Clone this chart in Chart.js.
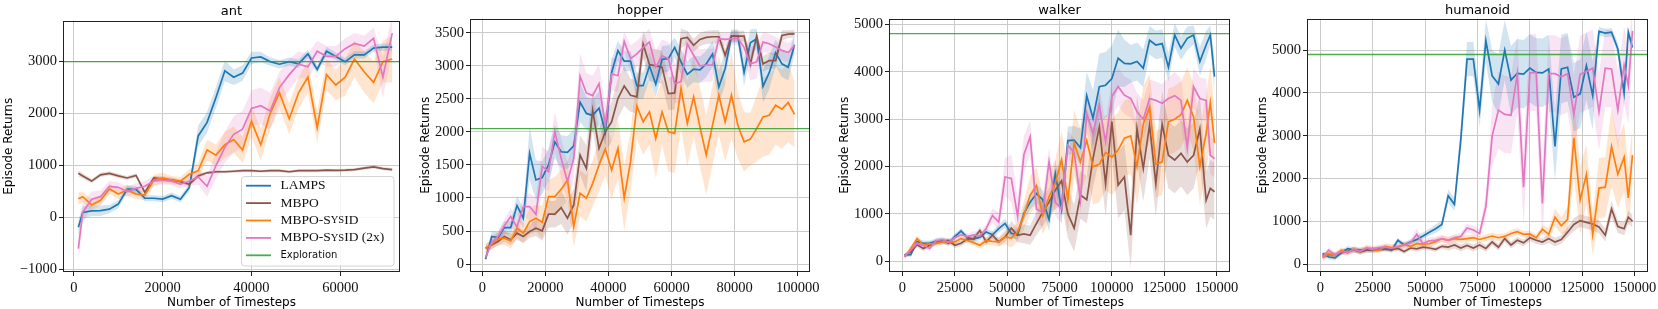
<!DOCTYPE html>
<html>
<head>
<meta charset="utf-8">
<script src="https://cdn.jsdelivr.net/npm/chart.js@4/dist/chart.umd.min.js"></script>
<style>
  html, body { margin: 0; padding: 0; background: #fff; }
  #fig { position: relative; width: 1658px; height: 309px; overflow: hidden; }
  #fig canvas { position: absolute; top: 0; }
</style>
</head>
<body>
<div id="fig">
  <canvas id="chart-ant"></canvas>
  <canvas id="chart-hopper"></canvas>
  <canvas id="chart-walker"></canvas>
  <canvas id="chart-humanoid"></canvas>
</div>
<script>
/*
  ==================================================
  ====================== DATA ======================
  ==================================================
*/

let seriesNames = ['LAMPS', 'MBPO', 'MBPO-SysID', 'MBPO-SysID (2x)'];

// ---- ant ----
let antSteps = [1000, 2000, 4000, 6000, 8000, 10000, 12000, 14000, 16000, 18000, 20000, 22000, 24000, 26000, 28000, 30000, 32000, 34000, 36000, 38000, 40000, 42100, 44200, 46300, 48500, 50600, 52700, 54800, 56900, 59000, 61100, 63200, 65400, 67500, 69600, 71700];
let antLamps = [-190, 96, 128, 130, 160, 257, 546, 540, 370, 370, 355, 420, 350, 578, 1570, 1830, 2311, 2824, 2700, 2780, 3070, 3090, 3000, 2950, 3000, 2960, 3150, 2850, 3200, 3100, 3000, 3130, 3130, 3260, 3280, 3280];
let antMbpo = [850, 800, 700, 820, 850, 800, 760, 810, 480, 760, 740, 720, 690, 640, 800, 860, 880, 880, 890, 900, 900, 890, 900, 900, 880, 900, 900, 900, 910, 905, 910, 920, 950, 975, 940, 920];
let antSysid = [360, 400, 240, 330, 550, 450, 530, 450, 430, 720, 760, 720, 700, 830, 900, 1300, 1200, 1400, 1500, 1300, 1850, 1400, 2000, 2400, 1900, 2400, 2700, 1730, 2750, 2550, 2700, 3050, 2800, 2600, 3000, 3050];
let antSysid2x = [-600, 100, 350, 400, 600, 580, 500, 560, 600, 700, 720, 700, 640, 700, 780, 600, 1000, 1350, 1600, 1700, 2100, 2150, 2050, 2500, 2750, 2950, 2900, 3200, 3100, 3100, 3250, 3350, 3300, 3450, 2700, 3550];
let antLampsSd = [150, 120, 100, 100, 80, 80, 70, 60, 60, 60, 60, 60, 60, 80, 200, 200, 200, 200, 150, 150, 120, 100, 80, 80, 80, 80, 80, 80, 80, 70, 70, 70, 70, 70, 70, 70];
let antMbpoSd = [60, 50, 40, 40, 40, 40, 40, 40, 40, 40, 40, 40, 40, 40, 40, 30, 30, 30, 30, 30, 30, 30, 30, 30, 30, 30, 30, 30, 30, 30, 30, 30, 30, 30, 30, 30];
let antSysidSd = [120, 100, 100, 100, 100, 100, 100, 100, 100, 100, 100, 80, 80, 100, 150, 200, 200, 250, 250, 250, 300, 300, 300, 300, 300, 300, 300, 300, 300, 300, 350, 350, 400, 400, 400, 450];
let antSysid2xSd = [250, 200, 150, 120, 100, 100, 100, 100, 100, 100, 80, 80, 80, 100, 150, 200, 250, 300, 350, 350, 350, 350, 350, 300, 300, 250, 250, 200, 200, 200, 200, 200, 200, 200, 400, 350];
let antExploration = 3000;
let antXTicks = [0, 20000, 40000, 60000];
let antYTicks = [-1000, 0, 1000, 2000, 3000];

// ---- hopper ----
let hopperSteps = [1000, 3000, 5000, 7000, 9000, 11000, 13000, 15000, 17000, 19000, 21000, 23000, 25000, 27000, 29000, 31000, 33000, 35000, 37000, 39000, 41000, 43000, 45000, 47000, 49000, 51000, 53000, 55000, 57000, 59000, 61000, 63000, 65000, 67000, 69000, 71000, 73000, 75000, 77000, 79000, 81000, 83000, 85000, 87000, 89000, 91000, 93000, 95000, 97000, 99000];
let hopperLamps = [75, 417, 402, 553, 553, 885, 694, 1675, 1273, 1308, 1500, 1850, 1700, 1690, 1790, 2450, 2280, 2250, 2360, 2000, 2900, 3230, 3070, 3070, 2700, 2700, 3000, 2720, 3100, 3110, 3280, 3060, 2870, 2950, 2940, 3030, 3180, 2680, 2960, 3450, 3450, 2900, 3350, 3410, 2690, 2900, 3200, 3030, 2980, 3320];
let hopperMbpo = [241, 292, 342, 417, 367, 468, 417, 493, 543, 503, 755, 755, 855, 694, 895, 1650, 1449, 2329, 1750, 2002, 2153, 2505, 2696, 2555, 2530, 3330, 3020, 3000, 2980, 2580, 2590, 3410, 3430, 3310, 3400, 3430, 3440, 3440, 3160, 3450, 3450, 3450, 3030, 3450, 3030, 3080, 3080, 3460, 3480, 3485];
let hopperSysid = [241, 302, 382, 392, 352, 543, 468, 644, 694, 634, 1021, 1021, 1130, 1270, 568, 1071, 996, 1222, 1499, 1740, 1423, 1750, 1000, 1549, 2394, 2153, 2304, 1901, 2304, 2002, 1977, 2656, 2128, 2530, 2078, 1650, 2103, 2555, 2153, 2555, 2103, 1851, 1891, 2052, 2228, 2253, 2404, 2344, 2445, 2264];
let hopperSysid2x = [100, 330, 420, 580, 720, 560, 870, 870, 750, 1480, 1400, 2000, 1600, 1250, 1600, 2840, 2590, 2550, 2730, 2100, 2880, 2850, 3370, 3110, 3180, 3280, 3360, 2980, 3150, 3110, 2730, 2760, 3330, 3160, 3000, 3010, 3010, 3410, 3400, 3410, 3420, 3280, 3030, 3060, 3360, 3335, 3285, 3234, 3200, 3310];
let hopperLampsSd = [50, 80, 80, 100, 100, 150, 150, 400, 300, 250, 250, 250, 250, 250, 250, 300, 250, 250, 250, 200, 200, 150, 150, 150, 200, 200, 200, 200, 200, 200, 150, 200, 200, 200, 200, 200, 200, 250, 250, 100, 100, 200, 200, 150, 250, 250, 200, 200, 200, 150];
let hopperMbpoSd = [60, 60, 60, 80, 80, 100, 100, 100, 120, 150, 200, 200, 250, 250, 250, 300, 350, 300, 300, 300, 300, 300, 300, 250, 250, 200, 250, 250, 250, 250, 250, 150, 100, 100, 100, 100, 100, 100, 100, 80, 80, 80, 120, 80, 120, 120, 120, 80, 60, 60];
let hopperSysidSd = [60, 80, 100, 100, 120, 150, 150, 200, 200, 250, 250, 300, 300, 300, 300, 350, 350, 350, 400, 400, 450, 450, 500, 450, 500, 500, 500, 600, 500, 600, 600, 600, 650, 600, 600, 600, 600, 600, 600, 650, 500, 450, 400, 500, 600, 600, 600, 600, 600, 500];
let hopperSysid2xSd = [60, 80, 80, 100, 120, 150, 150, 200, 250, 300, 300, 300, 300, 300, 300, 350, 300, 300, 300, 300, 250, 250, 150, 200, 200, 200, 200, 250, 250, 250, 300, 300, 200, 200, 250, 250, 250, 100, 100, 100, 100, 150, 250, 250, 150, 150, 150, 150, 150, 120];
let hopperExploration = 2050;
let hopperXTicks = [0, 20000, 40000, 60000, 80000, 100000];
let hopperYTicks = [0, 500, 1000, 1500, 2000, 2500, 3000, 3500];

// ---- walker ----
let walkerSteps = [1000, 4000, 7000, 10000, 13000, 16000, 19000, 22000, 25000, 28000, 31000, 34000, 37000, 40000, 43000, 46000, 49000, 52000, 55000, 58000, 61000, 64000, 67000, 70000, 73000, 76000, 79000, 82000, 85000, 88000, 91000, 94000, 97000, 100000, 103000, 106000, 109000, 112000, 115000, 118000, 121000, 124000, 127000, 130000, 133000, 136000, 139000, 142000, 145000, 147000, 149000];
let walkerLamps = [130, 140, 420, 380, 380, 420, 440, 380, 520, 640, 500, 470, 510, 620, 560, 690, 800, 590, 560, 1010, 1250, 1430, 1300, 880, 1850, 1100, 2550, 2560, 2400, 3500, 3020, 3690, 3720, 3860, 4290, 4180, 4170, 4220, 4080, 4670, 4570, 4600, 4100, 4780, 4500, 4710, 4780, 4220, 4570, 4780, 3900];
let walkerMbpo = [127, 200, 350, 270, 340, 400, 420, 440, 340, 380, 470, 480, 650, 410, 550, 410, 515, 700, 550, 580, 550, 800, 1040, 1250, 1500, 1700, 1000, 700, 1400, 1300, 2170, 2840, 1640, 2950, 1610, 1780, 550, 2800, 1960, 2880, 1640, 2900, 2240, 2140, 2280, 2100, 2240, 2800, 1290, 1540, 1470];
let walkerSysid = [90, 270, 480, 350, 370, 380, 410, 410, 410, 480, 440, 395, 340, 440, 420, 410, 515, 490, 620, 970, 1400, 1600, 970, 1360, 1650, 2150, 1300, 2500, 2100, 2550, 2000, 2050, 2300, 2200, 2350, 2600, 2650, 2000, 2900, 3250, 2050, 2100, 2950, 3000, 3100, 3400, 3050, 2000, 2700, 3350, 2500];
let walkerSysid2x = [90, 240, 380, 340, 270, 430, 460, 400, 500, 560, 520, 560, 540, 690, 970, 830, 1780, 1750, 950, 2250, 2630, 1100, 1040, 2100, 1250, 1100, 2450, 2300, 1300, 3120, 2700, 3300, 2520, 3480, 3690, 3510, 3440, 3160, 3000, 3440, 3400, 3340, 3440, 3500, 3400, 2400, 3690, 3440, 3400, 2240, 2170];
let walkerLampsSd = [40, 50, 60, 60, 60, 60, 60, 60, 60, 60, 60, 60, 60, 60, 80, 80, 100, 100, 100, 150, 150, 200, 200, 250, 300, 300, 300, 300, 400, 500, 600, 700, 700, 700, 600, 500, 400, 400, 400, 300, 300, 300, 300, 250, 250, 250, 200, 300, 300, 200, 400];
let walkerMbpoSd = [40, 50, 60, 60, 60, 60, 60, 60, 60, 60, 60, 60, 80, 80, 80, 80, 100, 150, 150, 200, 200, 250, 300, 300, 400, 500, 500, 500, 500, 500, 600, 700, 700, 700, 700, 700, 700, 700, 700, 700, 700, 700, 700, 700, 700, 700, 700, 700, 600, 600, 600];
let walkerSysidSd = [50, 60, 60, 60, 60, 60, 60, 60, 60, 60, 60, 60, 80, 80, 80, 100, 150, 200, 200, 300, 400, 400, 400, 500, 500, 600, 700, 700, 700, 700, 800, 800, 800, 800, 800, 800, 800, 800, 800, 700, 700, 700, 700, 700, 700, 700, 700, 800, 800, 800, 700];
let walkerSysid2xSd = [40, 50, 60, 60, 60, 60, 60, 60, 60, 60, 60, 80, 80, 100, 150, 200, 400, 500, 400, 400, 350, 300, 300, 300, 300, 300, 300, 300, 300, 400, 400, 400, 400, 400, 400, 400, 400, 400, 400, 400, 400, 400, 450, 500, 450, 450, 400, 450, 450, 400, 400];
let walkerExploration = 4810;
let walkerXTicks = [0, 25000, 50000, 75000, 100000, 125000, 150000];
let walkerYTicks = [0, 1000, 2000, 3000, 4000, 5000];

// ---- humanoid ----
let humanoidSteps = walkerSteps;
let humanoidLamps = [250, 170, 150, 270, 365, 330, 330, 330, 330, 360, 380, 330, 560, 450, 520, 580, 660, 750, 830, 930, 1600, 1400, 2900, 4790, 4790, 3600, 5220, 4400, 4210, 5000, 4300, 4460, 4440, 4580, 4480, 4470, 4560, 2750, 4560, 4600, 3900, 3980, 4640, 3940, 5440, 5400, 5420, 5030, 4000, 5420, 5060];
let humanoidMbpo = [200, 230, 220, 280, 300, 340, 290, 330, 340, 350, 350, 340, 370, 300, 380, 360, 400, 380, 350, 420, 400, 450, 380, 440, 380, 450, 370, 520, 400, 600, 450, 560, 500, 620, 560, 520, 600, 520, 580, 750, 930, 1020, 980, 940, 870, 680, 1290, 880, 830, 1100, 1010];
let humanoidSysid = [150, 250, 200, 330, 270, 350, 300, 380, 340, 330, 420, 390, 400, 460, 420, 480, 470, 480, 530, 600, 560, 600, 580, 600, 620, 580, 620, 660, 620, 650, 720, 760, 700, 710, 620, 820, 700, 1100, 900, 1050, 2950, 1500, 2100, 700, 1780, 1800, 2750, 2100, 2500, 1550, 2550];
let humanoidSysid2x = [170, 330, 220, 300, 280, 350, 300, 380, 360, 390, 400, 380, 420, 450, 500, 700, 480, 550, 560, 600, 560, 620, 650, 850, 800, 720, 1350, 3000, 3600, 3500, 3480, 4450, 1800, 4470, 4480, 1420, 4450, 4450, 4380, 4450, 3500, 4440, 4500, 4580, 3560, 4580, 4560, 3600, 4650, 4170, 5450];
let humanoidLampsSd = [60, 60, 60, 60, 60, 60, 60, 60, 60, 60, 60, 60, 60, 60, 60, 80, 80, 80, 100, 100, 150, 150, 300, 400, 400, 400, 500, 600, 700, 700, 800, 800, 800, 800, 800, 800, 800, 800, 800, 800, 800, 800, 800, 800, 100, 100, 100, 150, 300, 100, 100];
let humanoidMbpoSd = [60, 60, 60, 60, 60, 60, 60, 60, 60, 60, 60, 60, 60, 60, 60, 60, 60, 60, 60, 60, 80, 80, 80, 80, 80, 80, 80, 80, 80, 80, 80, 80, 80, 80, 80, 80, 100, 100, 100, 120, 150, 150, 150, 150, 150, 150, 200, 150, 150, 150, 150];
let humanoidSysidSd = [70, 70, 70, 70, 70, 70, 70, 70, 70, 70, 70, 70, 80, 80, 80, 80, 80, 80, 80, 80, 80, 80, 80, 80, 80, 80, 80, 80, 80, 80, 80, 80, 80, 80, 80, 100, 150, 200, 200, 300, 900, 800, 700, 500, 700, 700, 900, 800, 800, 700, 700];
let humanoidSysid2xSd = [70, 70, 70, 70, 70, 70, 70, 70, 70, 70, 70, 70, 70, 70, 80, 150, 80, 80, 80, 80, 80, 80, 80, 100, 100, 100, 300, 700, 900, 900, 900, 900, 900, 900, 900, 900, 900, 900, 900, 900, 900, 900, 900, 900, 900, 900, 900, 900, 900, 900, 600];
let humanoidExploration = 4900;
let humanoidXTicks = walkerXTicks;
let humanoidYTicks = walkerYTicks;

/*
  ==================================================
  ===================== STYLE ======================
  ==================================================
*/

let lineRgb = ['31,119,180', '140,86,75', '255,127,14', '227,119,194'];
let lineOrder = [4, 3, 2, 1];
let exploreColor = 'rgba(44,160,44,0.85)';
let serif = "'Liberation Serif', 'DejaVu Serif', serif";
let sans = "'DejaVu Sans', sans-serif";

let panels = [
  { id: 'chart-ant', title: 'ant', left: 0, width: 425, axisW: 63, padRight: 25, titlePad: { top: 4, bottom: 1 },
    x: antSteps, series: [antLamps, antMbpo, antSysid, antSysid2x], spread: [antLampsSd, antMbpoSd, antSysidSd, antSysid2xSd],
    explore: antExploration, xMin: -2450, xMax: 73450, yMin: -1050, yMax: 3790, xTicks: antXTicks, yTicks: antYTicks, legend: true },
  { id: 'chart-hopper', title: 'hopper', left: 417, width: 418, axisW: 53, padRight: 25, titlePad: { top: 3, bottom: 0 },
    x: hopperSteps, series: [hopperLamps, hopperMbpo, hopperSysid, hopperSysid2x], spread: [hopperLampsSd, hopperMbpoSd, hopperSysidSd, hopperSysid2xSd],
    explore: hopperExploration, xMin: -3900, xMax: 103900, yMin: -120, yMax: 3715, xTicks: hopperXTicks, yTicks: hopperYTicks },
  { id: 'chart-walker', title: 'walker', left: 836, width: 419, axisW: 53, padRight: 25, titlePad: { top: 3, bottom: 0 },
    x: walkerSteps, series: [walkerLamps, walkerMbpo, walkerSysid, walkerSysid2x], spread: [walkerLampsSd, walkerMbpoSd, walkerSysidSd, walkerSysid2xSd],
    explore: walkerExploration, xMin: -6400, xMax: 156400, yMin: -226, yMax: 5127, xTicks: walkerXTicks, yTicks: walkerYTicks },
  { id: 'chart-humanoid', title: 'humanoid', left: 1254, width: 404, axisW: 53, padRight: 10, titlePad: { top: 3, bottom: 0 },
    x: humanoidSteps, series: [humanoidLamps, humanoidMbpo, humanoidSysid, humanoidSysid2x], spread: [humanoidLampsSd, humanoidMbpoSd, humanoidSysidSd, humanoidSysid2xSd],
    explore: humanoidExploration, xMin: -6400, xMax: 156400, yMin: -180, yMax: 5737, xTicks: humanoidXTicks, yTicks: humanoidYTicks }
];

/*
  ==================================================
  ==================== PLUGINS =====================
  ==================================================
*/

let framePlugin = {
  id: 'frame',
  afterDatasetsDraw(chart) {
    let { ctx, chartArea: a } = chart;
    ctx.save();
    ctx.strokeStyle = '#222';
    ctx.lineWidth = 1;
    ctx.strokeRect(Math.round(a.left) + 0.5, Math.round(a.top) + 0.5, Math.round(a.width) - 1, Math.round(a.height) - 1);
    ctx.restore();
  }
};

// small caps for "SysID", as typeset in the paper
let drawPieces = (ctx, pieces, x, y, size) => {
  pieces.forEach(([text, scale]) => {
    ctx.font = `${size * scale}px ${serif}`;
    ctx.fillText(text, x, y);
    x += ctx.measureText(text).width;
  });
};

let legendPlugin = {
  id: 'cornerLegend',
  afterDraw(chart) {
    let { ctx, chartArea: a } = chart;
    let items = chart.data.datasets.filter(d => d.legendLabel);
    let box = { x: a.right - 159, y: a.bottom - 96, w: 152.5, h: 89.5 };

    ctx.save();
    ctx.beginPath();
    ctx.roundRect(box.x + 0.5, box.y + 0.5, box.w, box.h, 3);
    ctx.fillStyle = 'rgba(255,255,255,0.85)';
    ctx.fill();
    ctx.strokeStyle = '#d4d4d4';
    ctx.lineWidth = 1;
    ctx.stroke();

    ctx.textBaseline = 'middle';
    ctx.fillStyle = '#111';
    items.forEach((d, i) => {
      let y = box.y + 9.7 + i * 17.4;
      ctx.beginPath();
      ctx.moveTo(box.x + 5, y);
      ctx.lineTo(box.x + 30, y);
      ctx.strokeStyle = d.borderColor;
      ctx.lineWidth = 1.8;
      ctx.stroke();

      let tx = box.x + 39.5;
      let label = d.legendLabel;
      if (label === 'Exploration') {
        ctx.font = `10px ${sans}`;
        ctx.fillText(label, tx, y);
      } else if (label.startsWith('MBPO-SysID')) {
        drawPieces(ctx, [['MBPO-S', 1], ['YS', 0.78], ['ID', 1], [label.slice(10), 1]], tx, y, 13.5);
      } else {
        ctx.font = `13.5px ${serif}`;
        ctx.fillText(label, tx, y);
      }
    });
    ctx.restore();
  }
};

/*
  ==================================================
  ===================== CHARTS =====================
  ==================================================
*/

let fmtTick = v => v < 0 ? '\u2212' + Math.abs(v) : String(v);

let buildDatasets = (p) => {
  let sets = [];

  p.series.forEach((ys, i) => {
    let lo = p.x.map((x, j) => ({ x, y: ys[j] - p.spread[i][j] }));
    let hi = p.x.map((x, j) => ({ x, y: ys[j] + p.spread[i][j] }));
    sets.push({ data: lo, borderColor: 'transparent', borderWidth: 0, pointRadius: 0, fill: false, order: 20 + i });
    sets.push({ data: hi, borderColor: 'transparent', borderWidth: 0, pointRadius: 0, fill: '-1',
      backgroundColor: `rgba(${lineRgb[i]},0.2)`, order: 20 + i });
  });

  p.series.forEach((ys, i) => {
    sets.push({
      legendLabel: seriesNames[i],
      data: p.x.map((x, j) => ({ x, y: ys[j] })),
      borderColor: `rgb(${lineRgb[i]})`,
      borderWidth: 1.7,
      pointRadius: 0,
      fill: false,
      order: lineOrder[i]
    });
  });

  sets.push({
    legendLabel: 'Exploration',
    data: [{ x: p.xMin, y: p.explore }, { x: p.xMax, y: p.explore }],
    borderColor: exploreColor,
    borderWidth: 1.4,
    pointRadius: 0,
    fill: false,
    order: 0
  });

  return sets;
};

let makeChart = (p) => {
  let canvas = document.getElementById(p.id);
  canvas.width = p.width;
  canvas.height = 309;
  canvas.style.left = p.left + 'px';

  let tickFont = { family: serif, size: 14.5 };
  let labelFont = { family: sans, size: 12 };

  return new Chart(canvas.getContext('2d'), {
    type: 'line',
    data: { datasets: buildDatasets(p) },
    options: {
      responsive: false,
      animation: false,
      events: [],
      elements: { line: { tension: 0 }, point: { radius: 0 } },
      layout: { padding: { left: 0, right: p.padRight, top: 0, bottom: 0 } },
      plugins: {
        legend: { display: false },
        tooltip: { enabled: false },
        title: {
          display: true, text: p.title, color: '#000', fullSize: false,
          font: { family: sans, size: 13, weight: 'normal' }, padding: p.titlePad
        }
      },
      scales: {
        x: {
          type: 'linear', min: p.xMin, max: p.xMax,
          afterBuildTicks: s => { s.ticks = p.xTicks.map(v => ({ value: v })); },
          afterFit: s => { s.height = 37; s.paddingLeft = 0; s.paddingRight = 0; },
          ticks: { font: tickFont, color: '#111', padding: 3, maxRotation: 0, autoSkip: false, callback: fmtTick },
          grid: { color: '#cbcbcb', lineWidth: 1, tickLength: 4, tickColor: '#222' },
          border: { display: false },
          title: { display: true, text: 'Number of Timesteps', color: '#000', font: labelFont, padding: { top: 0, bottom: -1 } }
        },
        y: {
          type: 'linear', min: p.yMin, max: p.yMax,
          afterBuildTicks: s => { s.ticks = p.yTicks.map(v => ({ value: v })); },
          afterFit: s => { s.width = p.axisW; s.paddingTop = 0; s.paddingBottom = 0; },
          ticks: { font: tickFont, color: '#111', padding: 2, autoSkip: false, callback: fmtTick },
          grid: { color: '#cbcbcb', lineWidth: 1, tickLength: 4, tickColor: '#222' },
          border: { display: false },
          title: { display: true, text: 'Episode Returns', color: '#000', font: labelFont, padding: { top: 2, bottom: 0 } }
        }
      }
    },
    plugins: p.legend ? [framePlugin, legendPlugin] : [framePlugin]
  });
};

panels.forEach(makeChart);
</script>
</body>
</html>
